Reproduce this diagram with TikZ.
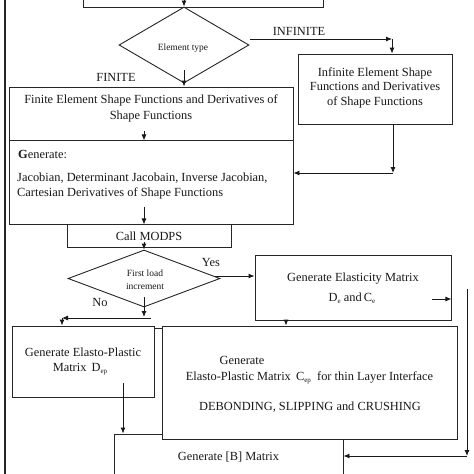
\documentclass[tikz,border=0pt]{standalone}
\usepackage{fontspec}
\setmainfont{Liberation Serif}
\usetikzlibrary{shapes.geometric,arrows.meta}
\newcommand{\lsub}[1]{\raisebox{-0.5ex}{\fontsize{7}{8}\selectfont #1}}
\begin{document}
\begin{tikzpicture}[x=1pt,y=-1pt,
  box/.style={draw=black!85, line width=0.9pt, rectangle, inner sep=0pt, fill=white},
  dia/.style={draw=black!85, line width=0.9pt, diamond, inner sep=0pt, fill=white},
  txt/.style={inner sep=0pt, anchor=base, text=black!90, font=\fontsize{12.4}{15}\selectfont},
  ltxt/.style={txt, anchor=base west},
  stxt/.style={inner sep=0pt, anchor=base, text=black!90, font=\fontsize{9.5}{11}\selectfont},
  arr/.style={draw=black!90, line width=0.9pt, -{Latex[length=6pt,width=5pt]}},
  ln/.style={draw=black!85, line width=0.9pt}]
\useasboundingbox (0,0) rectangle (474,474);

% boxes
\node[box, minimum width=240pt, minimum height=27pt] (top) at (203,-6.5) {};
\node[dia, minimum width=130pt, minimum height=76pt] (et) at (184,45) {};
\node[box, minimum width=154pt, minimum height=70pt] (inf) at (375,89) {};
\node[box, minimum width=284pt, minimum height=53pt] (fin) at (151,113.5) {};
\node[box, minimum width=284pt, minimum height=84pt] (gen) at (151,182) {};
\node[box, minimum width=164pt, minimum height=23pt] (callm) at (149,235.5) {};
\node[dia, minimum width=152pt, minimum height=57pt] (fl) at (144,278.5) {};
\node[box, minimum width=196pt, minimum height=65pt] (el) at (353,287.5) {};
\node[box, minimum width=142pt, minimum height=71pt] (dep) at (83,361.5) {};
\node[box, minimum width=229pt, minimum height=56pt] (bm) at (228.5,462) {};
\node[box, minimum width=295pt, minimum height=113pt] (cep) at (309.5,382.5) {};

% texts
\node[txt] (tinf) at (299,35) {INFINITE};
\node[stxt] (tet) at (183,50) {Element type};
\node[txt] (tfin) at (116,81) {FINITE};
\node[txt] (tf1) at (151,103) {Finite Element Shape Functions and Derivatives of};
\node[txt] (tf2) at (151,119) {Shape Functions};
\node[txt] (ti1) at (375,76) {Infinite Element Shape};
\node[txt] (ti2) at (375,90) {Functions and Derivatives};
\node[txt] (ti3) at (375,105) {of Shape Functions};
\node[ltxt] (tg1) at (18,158) {\textbf{G}enerate:};
\node[ltxt] (tg2) at (17,181) {Jacobian, Determinant Jacobain, Inverse Jacobian,};
\node[ltxt] (tg3) at (17,196) {Cartesian Derivatives of Shape Functions};
\node[txt] (tcm) at (149,240) {Call MODPS};
\node[stxt] (tfl1) at (145,276) {First load};
\node[stxt] (tfl2) at (145,289) {increment};
\node[txt] (tyes) at (211,266) {Yes};
\node[txt] (tno) at (100,306) {No};
\node[txt] (te1) at (353,281) {Generate Elasticity Matrix};
\node[txt] (te2) at (352,301) {D\lsub{e} and\,C\lsub{e}};
\node[txt] (td1) at (83,356) {Generate Elasto-Plastic};
\node[txt] (td2) at (80,371) {Matrix\, D\lsub{ep}};
\node[txt] (tc1) at (242,364) {Generate};
\node[txt] (tc2) at (309.5,380) {Elasto-Plastic Matrix\, C\lsub{ep}\ \ for thin Layer Interface};
\node[txt] (tc3) at (310,410) {DEBONDING, SLIPPING and CRUSHING};
\node[txt] (tb) at (228.5,460) {Generate [B] Matrix};

% coordinates
\coordinate (lt) at (5,-5);
\coordinate (lb) at (5,480);
\coordinate (t1) at (184,-3);
\coordinate (infA) at (250,39);
\coordinate (infC) at (392,39);
\coordinate (et1) at (184,70);
\coordinate (f1) at (144,131);
\coordinate (g1) at (144,207);
\coordinate (i1) at (393,124);
\coordinate (i2) at (393,173);
\coordinate (cm1) at (144,242);
\coordinate (y1) at (215,276);
\coordinate (e1) at (432,299);
\coordinate (v1) at (467,289);
\coordinate (v2) at (467,456);
\coordinate (n1) at (144,297);
\coordinate (n2) at (144,317);
\coordinate (n3) at (151,318);
\coordinate (n4) at (62,318);
\coordinate (c1) at (286,320);
\coordinate (d1) at (123,383);
\coordinate (k1) at (154,328);

% connectors
\draw[ln, line width=1.3pt] (lt) -- (lb);
\draw[arr] (t1) -- (et.north);
\draw[arr] (infA) -- (infC);
\draw[arr] (infC) -- (infC |- inf.north);
\draw[arr] (et1) -- (et1 |- fin.north);
\draw[arr] (f1) -- (f1 |- fin.south);
\draw[arr] (g1) -- (g1 |- gen.south);
\draw[arr] (i1) -- (i2);
\draw[arr] (i2) -- (i2 -| gen.east);
\draw[arr] (cm1) -- (fl.north);
\draw[arr] (y1) -- (y1 -| el.west);
\draw[arr] (e1) -- (e1 -| el.east);
\draw[arr] (v1) -- (v2);
\draw[arr] (v2) -- (v2 -| bm.east);
\draw[arr] (n1) -- (n2);
\draw[arr] (n3) -- (n4);
\draw[arr] (n4) -- (n4 |- dep.north);
\draw[arr] (c1) -- (c1 |- cep.north);
\draw[arr] (d1) -- (d1 |- bm.north);
\draw[ln] (k1) -- (k1 -| cep.west);
\end{tikzpicture}
\end{document}
